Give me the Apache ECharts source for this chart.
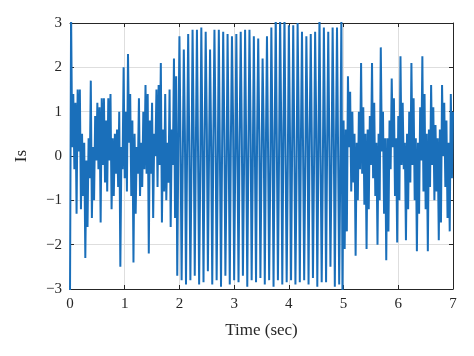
<!DOCTYPE html>
<html>
<head>
<meta charset="utf-8">
<script src="https://cdn.jsdelivr.net/npm/echarts@6/dist/echarts.min.js"></script>
<style>
html,body{margin:0;padding:0;background:#fff;}
#chart{width:474px;height:356px;}
</style>
</head>
<body>
<div id="chart"></div>
<script>
// Sampling step of the signal (seconds)
var dt = 0.02;
// Is values, 0 to 1.98 s
var isSeg1 = [
  -3.2, 3.2,  0.2, 1.4,  -0.3, 1.2,  -1.3, 1.5,  0.1, 1.5,
  -1.2, 0.5,  -0.9, 0.3,  -2.3, -0.1, -1.6, 0.4, -0.5, 1.7,
  -1.4, 0.2,  -1.0, 0.9,  -0.1, 1.2,  -0.3, 1.1, -1.5, 1.3,
  -0.2, 1.3,  -0.6, 0.8,  -0.8, 1.3,  -0.1, 1.4, -1.2, 0.4,
  -0.9, 0.5,  -0.4, 0.6,  -0.7, 1.0,  -2.5, 0.2, -0.3, 2.0,
  -0.5, 1.0,  -0.8, 2.3,  0.3, 1.4,   -0.9, 0.8, -2.4, 0.5,
  -1.3, 0.2,  -0.4, 1.3,  -0.9, 0.3,  -0.7, 1.0, -0.3, 1.6,
  -0.4, 1.4,  -2.2, 0.8,  -0.4, 1.2,  -1.4, 0.5, 0.0, 1.5,
  -0.7, 1.6,  -0.2, 2.1,  -1.5, 0.6,  -0.8, 1.4, -1.0, 0.3,
  -0.6, 1.5,  -1.6, 0.6,  -0.2, 2.2,  -1.4, 1.8, -2.7, 0.2
];
// Is values, 2.00 to 4.98 s
var isSeg2 = [
  2.7, 0.3, -2.8, -0.2,   2.4, 0.5, -2.9, 0.1,    2.75, 0.2, -2.8, -0.3,
  2.85, 0.6, -2.7, 0.2,   2.85, 0.1, -2.9, -0.4,  2.9, 0.4, -2.85, 0.3,
  2.8, 0.7, -2.6, -0.1,   2.4, 0.2, -2.9, 0.4,    2.85, 0.5, -2.8, -0.3,
  2.85, 0.0, -2.95, 0.2,  2.8, 0.6, -2.7, -0.5,   2.75, 0.3, -2.9, 0.3,
  2.7, 0.8, -2.8, -0.2,   2.75, 0.1, -2.85, 0.4,  2.8, 0.5, -2.7, -0.4,
  2.85, 0.2, -2.95, 0.1,  2.85, 0.7, -2.8, -0.3,  2.7, 0.0, -2.85, 0.5,
  2.65, 0.4, -2.75, -0.2, 2.2, 0.6, -2.9, 0.2,    2.7, 0.1, -2.8, -0.4,
  2.9, 0.5, -2.95, 0.3,   3.2, 0.3, -2.8, -0.1,   3.2, 0.7, -2.9, 0.4,
  3.2, 0.0, -2.85, -0.3,  2.95, 0.5, -2.8, 0.2,   2.95, 0.2, -2.9, -0.5,
  3.0, 0.8, -2.85, 0.3,   2.8, 0.1, -2.8, -0.2,   2.7, 0.6, -2.9, 0.4,
  2.75, 0.3, -2.75, -0.3, 2.8, 0.7, -2.95, 0.1,   3.2, 0.0, -2.85, -0.4,
  2.9, 0.5, -2.85, 0.3,   2.8, 0.2, -2.5, -0.2,   2.9, 0.6, -2.95, 0.2,
  2.9, 0.1, -2.9, -0.3,   3.2, -3.2
];
// Is values, 5.00 to 7.00 s
var isSeg3 = [
  0.8, -2.1,  0.6, -1.7,  1.8, 0.2,   1.45, -0.8, 1.0, -0.6,
  0.5, -2.25, 0.3, -1.0,  1.0, -0.3,  2.1, -0.4,  1.1, -1.1,
  0.5, -2.1,  0.6, -1.2,  0.9, -0.2,  2.1, -0.5,  1.2, -0.9,
  0.3, -2.0,  0.5, -1.0,  2.45, 0.1,  1.0, -1.3,  0.4, -2.35,
  0.4, -1.7,  0.8, -0.3,  1.75, 0.2,  1.3, -0.9,  0.4, -1.95,
  0.9, -1.0,  2.25, -0.2, 1.2, -0.3,  0.3, -1.9,  0.5, -1.2,
  1.0, -0.6,  2.1, -0.2,  1.3, -1.0,  0.4, -2.15, 0.3, -1.3,
  1.1, -0.1,  2.25, -0.8, 1.4, -1.2,  0.5, -2.15, 0.6, -0.7,
  1.6, -0.2,  1.1, -1.0,  0.7, -0.8,  0.4, -1.9,  0.6, -1.5,
  1.6, 0.0,   1.2, -0.7,  0.8, -1.4,  0.3, -1.7,  1.4, -0.5,
  1.0
];
var xTicks = [0, 1, 2, 3, 4, 5, 6, 7];
var yTicks = [-3, -2, -1, 0, 1, 2, 3];

var isValues = isSeg1.concat(isSeg2, isSeg3);
var seriesData = isValues.map(function (v, i) { return [+(i * dt).toFixed(2), v]; });

var font = '"Liberation Serif", "DejaVu Serif", serif';
var axisColor = '#262626';
var chart = echarts.init(document.getElementById('chart'), null, {renderer: 'canvas'});
var baseX = {
  type: 'value', min: xTicks[0], max: xTicks[xTicks.length - 1], interval: 1,
  axisLine: {show: true, onZero: false, lineStyle: {color: axisColor, width: 1}},
  axisTick: {show: true, inside: true, length: 4, lineStyle: {color: axisColor}},
  splitLine: {show: false}
};
var baseY = {
  type: 'value', min: yTicks[0], max: yTicks[yTicks.length - 1], interval: 1,
  axisLine: {show: true, onZero: false, lineStyle: {color: axisColor, width: 1}},
  axisTick: {show: true, inside: true, length: 4, lineStyle: {color: axisColor}},
  splitLine: {show: false}
};
chart.setOption({
  animation: false,
  backgroundColor: '#ffffff',
  grid: {left: 70, right: 21, top: 23, bottom: 67, containLabel: false},
  xAxis: [
    Object.assign({}, baseX, {
      position: 'bottom',
      name: 'Time (sec)', nameLocation: 'middle', nameGap: 33,
      nameTextStyle: {fontFamily: font, fontSize: 17, color: axisColor},
      axisLabel: {show: true, fontFamily: font, fontSize: 15, color: axisColor, margin: 8},
      splitLine: {show: true, lineStyle: {color: '#dedede', width: 1}}
    }),
    Object.assign({}, baseX, {position: 'top', axisLabel: {show: false}})
  ],
  yAxis: [
    Object.assign({}, baseY, {
      position: 'left',
      name: 'Is', nameLocation: 'middle', nameGap: 40, nameRotate: 90,
      nameTextStyle: {fontFamily: font, fontSize: 17, color: axisColor},
      axisLabel: {show: true, fontFamily: font, fontSize: 15, color: axisColor, margin: 8,
        formatter: function (v) { return v < 0 ? '\u2212' + Math.abs(v) : String(v); }},
      splitLine: {show: true, lineStyle: {color: '#dedede', width: 1}}
    }),
    Object.assign({}, baseY, {position: 'right', axisLabel: {show: false}})
  ],
  series: [{
    type: 'line',
    xAxisIndex: 0, yAxisIndex: 0,
    data: seriesData,
    showSymbol: false, symbol: 'none',
    clip: true,
    lineStyle: {color: '#1a6fba', width: 2},
    emphasis: {disabled: true}
  }]
});
</script>
</body>
</html>
